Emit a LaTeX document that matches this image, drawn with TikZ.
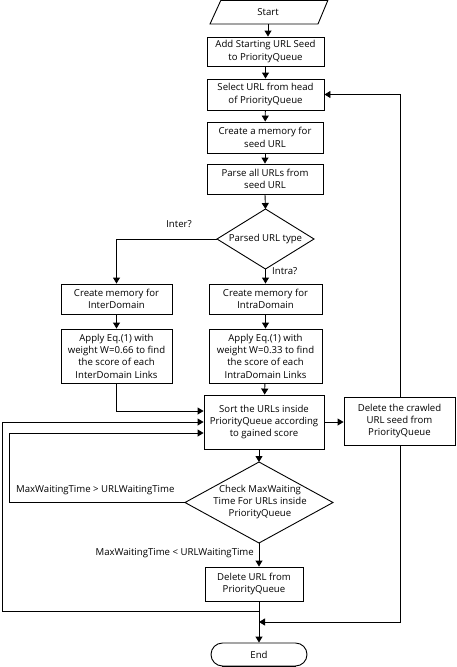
\documentclass[tikz,border=0pt]{standalone}
\usepackage{fontspec}
\setmainfont{Open Sans}
\usetikzlibrary{shapes.geometric,shapes.misc,arrows.meta,calc}
\begin{document}
\begin{tikzpicture}[x=1pt,y=-1pt,
  every node/.style={font=\fontsize{9.6}{12.4}\selectfont, inner sep=0pt},
  box/.style={draw, line width=0.9pt, align=center},
  conn/.style={line width=0.9pt},
  arr/.style={conn, -{Triangle[length=6pt,width=7pt]}},
  lbl/.style={font=\fontsize{9.6}{12.4}\selectfont}
]
\useasboundingbox (0,0) rectangle (456,667);
% start parallelogram
\draw[line width=0.9pt] (210,24) -- (318,24) -- (328,0) -- (221,0) -- cycle;
\draw[line width=2pt] (221,0) -- (328,0);
\node (start) at (268,12) {Start};
\coordinate (startb) at (268,24);
\node[box, minimum width=117pt, minimum height=29pt] (add) at (265.5,51.5) {Add Starting URL Seed\\to PriorityQueue};
\node[box, minimum width=117pt, minimum height=31pt] (select) at (265.5,94.5) {Select URL from head\\of PriorityQueue};
\node[box, minimum width=116pt, minimum height=31pt] (mem) at (265,137.5) {Create a memory for\\seed URL};
\node[box, minimum width=116pt, minimum height=30pt] (parse) at (265,179) {Parse all URLs from\\seed URL};
\draw[line width=0.9pt] (217,239) -- (265.5,209) -- (314,239) -- (265.5,269) -- cycle;
\coordinate (d1w) at (217,239);
\coordinate (d1n) at (265.5,209);
\coordinate (d1s) at (265.5,269);
\node (d1) at (265.5,239) {Parsed URL type};
\node[box, minimum width=111pt, minimum height=30pt] (intermem) at (116.5,299) {Create memory for\\InterDomain};
\node[box, minimum width=113pt, minimum height=30pt] (intramem) at (265.5,299) {Create memory for\\IntraDomain};
\node[box, minimum width=111pt, minimum height=54pt] (interapp) at (116.5,356) {Apply Eq.(1) with\\weight W=0.66 to find\\the score of each\\InterDomain Links};
\node[box, minimum width=113pt, minimum height=54pt] (intraapp) at (265.5,356) {Apply Eq.(1) with\\weight W=0.33 to find\\the score of each\\IntraDomain Links};
\node[box, minimum width=120pt, minimum height=54pt] (sort) at (264,422) {Sort the URLs inside\\PriorityQueue according\\to gained score};
\node[box, minimum width=111pt, minimum height=48pt] (delcrawl) at (399.5,421) {Delete the crawled\\URL seed from\\PriorityQueue};
\draw[line width=0.9pt] (185,502.5) -- (259,462) -- (333,502.5) -- (259,543) -- cycle;
\coordinate (d2w) at (185,502.5);
\coordinate (d2n) at (259,462);
\coordinate (d2s) at (259,543);
\node[align=center] (d2) at (260,502) {Check MaxWaiting\\Time For URLs inside\\PriorityQueue};
\node[box, minimum width=98pt, minimum height=34pt] (delurl) at (254,584) {Delete URL from\\PriorityQueue};
\node[draw, line width=0.9pt, rounded rectangle, minimum width=96pt, minimum height=23pt] (endn) at (259,654.5) {End};
\draw[line width=2pt] (222,666.5) -- (296,666.5);
% labels
\node[lbl] (linter) at (179,224) {Inter?};
\node[lbl, anchor=west] (lintra) at (272,271) {Intra?};
\node[lbl, anchor=south west] (lgt) at (16,495) {MaxWaitingTime > URLWaitingTime};
\node[lbl, anchor=east] (llt) at (254,553) {MaxWaitingTime < URLWaitingTime};
% connectors
\draw[arr] (startb) -- (startb |- add.north);
\draw[arr] (add) -- (select);
\draw[arr] (select) -- (mem);
\draw[arr] (mem) -- (parse);
\draw[arr] (parse.south) -- (d1n);
\draw[arr] (d1w) -| (intermem.north);
\draw[arr] (d1s) -- (intramem.north);
\draw[arr] (intermem) -- (interapp);
\draw[arr] (intramem) -- (intraapp);
\draw[arr] (interapp.south) |- ($(sort.west)+(0,-11)$);
\draw[arr] (intraapp) -- (sort);
\draw[arr] (sort.east) -- (sort.east -| delcrawl.west);
\coordinate (rtop) at (400,94.5);
\draw[arr] (delcrawl.north -| rtop) -- (rtop) -- (select.east);
\draw[arr] (sort.south -| d2n) -- (d2n);
\coordinate (lA) at (9,502.5);
\draw[arr] (d2w) -- (lA) |- ($(sort.west)+(0,11)$);
\draw[arr] (d2s) -- (d2s |- delurl.north);
\coordinate (dub) at (259,601);
\coordinate (jn) at (259,611);
\coordinate (rj) at (259,622);
\draw[arr] (dub) -- (endn.north);
\draw[arr] (jn) -- (2,611) |- (sort.west);
\draw[arr] (delcrawl.south -| rtop) -- (400,622) -- (rj);
\end{tikzpicture}
\end{document}
